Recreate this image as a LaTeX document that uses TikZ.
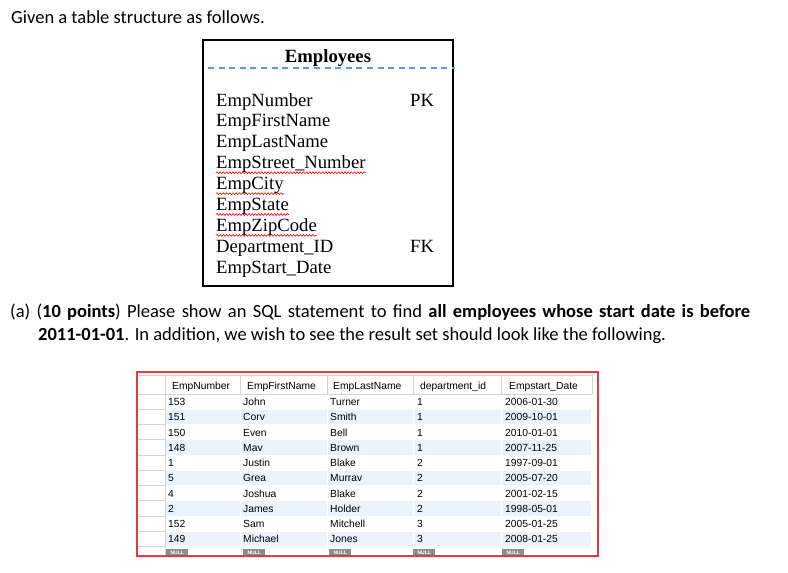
\documentclass[tikz,border=0pt]{standalone}
\usepackage{fontspec}
\setmainfont{Liberation Serif}
\newfontfamily\bodyFont{Carlito}
\newfontfamily\gridFont{Liberation Sans}
\usetikzlibrary{decorations.pathmorphing}
\tikzstyle{page} = [x = 1pt, y = -1pt]
\definecolor{dashBlue}{HTML}{5B9BD5}
\definecolor{gridGray}{HTML}{D4D4D4}
\definecolor{rowBlue}{HTML}{EAF2FC}
\definecolor{frameRed}{HTML}{E53A40}
\definecolor{nullGray}{HTML}{8C8C8C}
\tikzstyle{questionText} = [anchor=base west, inner sep=0, font=\bodyFont\fontsize{18.5}{22}\selectfont]
\tikzstyle{fieldText} = [anchor=base west, inner sep=0, font=\fontsize{18.67}{21}\selectfont]
\tikzstyle{titleText} = [anchor=base, inner sep=0, font=\fontsize{18.67}{21}\selectfont\bfseries]
\tikzstyle{gridText} = [anchor=base west, inner sep=0, font=\gridFont\fontsize{10.3}{12}\selectfont]
\tikzstyle{gridLine} = [color=gridGray, line width=.8]
\tikzstyle{spellLine} = [color=red, line width=.6, decorate, decoration={snake, amplitude=.9, segment length=3.2}]
\tikzstyle{nullBadge} = [fill=nullGray, inner sep=0, minimum width=22, minimum height=7.5, anchor=north west, text=white, font=\gridFont\fontsize{5}{5}\selectfont\bfseries]
\newcommand{\fieldRow}[3]{\node [fieldText] (#1) at (216, 106 + 20.9 * #2) {#3};}
\newcommand{\spellMark}[1]{\draw [spellLine] ([yshift=-4]#1.base west) -- ([yshift=-4]#1.base east);}
\newcommand{\nullCell}[2]{\node [nullBadge] (#1) at (#2, 548.5) {NULL};}

\begin{document}
\begin{tikzpicture}[page]
\useasboundingbox (0,0) rectangle (788,573);
\node [questionText] (intro) at (11, 23) {Given a table structure as follows.};
% table structure box
\draw [line width=2.2] (203,40) rectangle (453,286);
\node [titleText] (title) at (328, 62) {Employees};
\draw [color=dashBlue, line width=2.2, dash pattern=on 6 off 4.6] (208,68) -- (455,68);
\fieldRow{empNumber}{0}{EmpNumber}\fieldRow{empFirst}{1}{EmpFirstName}\fieldRow{empLast}{2}{EmpLastName}\fieldRow{empStreet}{3}{EmpStreet\_Number}\fieldRow{empCity}{4}{EmpCity}\fieldRow{empState}{5}{EmpState}\fieldRow{empZip}{6}{EmpZipCode}\fieldRow{deptId}{7}{Department\_ID}\fieldRow{empStart}{8}{EmpStart\_Date}
\node [fieldText] (pk) at (410, 106) {PK};
\node [fieldText] (fk) at (410, 252.3) {FK};
\spellMark{empStreet}\spellMark{empCity}\spellMark{empState}\spellMark{empZip}
% question
\node [questionText] (partA) at (10, 317) {\hbox to 740pt{(a) (\textbf{10 points}) Please show an SQL statement to find \textbf{all employees whose start date is before}}};
\node [questionText] (partB) at (38, 340) {\textbf{2011-01-01}. In addition, we wish to see the result set should look like the following.};
% result grid
\foreach \num/\first/\last/\dep/\start [count=\k from 0] in {153/John/Turner/1/2006-01-30, 151/Corv/Smith/1/2009-10-01, 150/Even/Bell/1/2010-01-01, 148/Mav/Brown/1/2007-11-25, 1/Justin/Blake/2/1997-09-01, 5/Grea/Murrav/2/2005-07-20, 4/Joshua/Blake/2/2001-02-15, 2/James/Holder/2/1998-05-01, 152/Sam/Mitchell/3/2005-01-25, 149/Michael/Jones/3/2008-01-25} {
  \pgfmathsetmacro{\rowTop}{394 + 15.25 * \k}
  \ifodd\k
    \fill [rowBlue] (166, \rowTop + .5) rectangle (591, \rowTop + 15);
  \fi
  \node [gridText] (num\k) at (168, \rowTop + 11.5) {\num};
  \node [gridText] (first\k) at (243, \rowTop + 11.5) {\first};
  \node [gridText] (last\k) at (330, \rowTop + 11.5) {\last};
  \node [gridText] (dep\k) at (417, \rowTop + 11.5) {\dep};
  \node [gridText] (start\k) at (505, \rowTop + 11.5) {\start};
}
\foreach \colX in {240,327,413,501} {\draw [white, line width=1] (\colX, 395) -- (\colX, 547);}
\foreach \k in {0,...,10} {\draw [gridLine] (138, 394 + 15.25 * \k) -- (165, 394 + 15.25 * \k);}
\draw [gridLine] (138,375) -- (592,375);
\draw [gridLine] (165,394) -- (592,394);
\draw [gridLine] (165,375) -- (165,556);
\foreach \colX in {240,327,413,501,592} {\draw [gridLine] (\colX, 375) -- (\colX, 394);}
\foreach \hx/\htext [count=\c] in {172/EmpNumber, 247/EmpFirstName, 333/EmpLastName, 420/department\_id, 509/Empstart\_Date} {\node [gridText] (head\c) at (\hx, 389) {\htext};}
\nullCell{nullA}{166}\nullCell{nullB}{243}\nullCell{nullC}{329}\nullCell{nullD}{413}\nullCell{nullE}{502}
\draw [color=frameRed, line width=1.2] (137,372) rectangle (598,556);
\end{tikzpicture}
\end{document}
